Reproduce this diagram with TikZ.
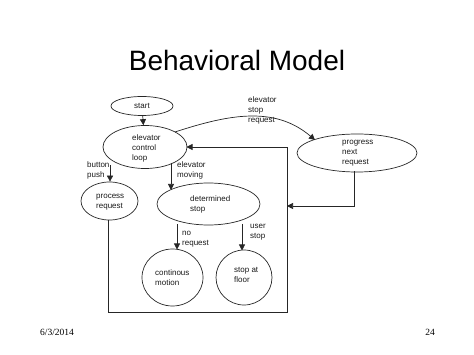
\documentclass[tikz,border=0pt]{standalone}
\usepackage{fontspec}
\setmainfont{Liberation Sans}
\newfontfamily\footfont{Liberation Serif}
\usetikzlibrary{shapes.geometric,arrows.meta}
\tikzset{
  st/.style={ellipse, draw=black!85, line width=0.7pt, inner sep=0pt},
  txt/.style={font=\fontsize{8}{10}\selectfont, align=left, inner sep=0pt, text=black!90},
  arr/.style={draw=black!85, line width=0.7pt, -{Triangle[length=6pt,width=6pt]}},
  ln/.style={draw=black!85, line width=0.7pt}
}
\begin{document}
\begin{tikzpicture}[x=1pt,y=-1pt]
\useasboundingbox (0,0) rectangle (474,355);
\node[font=\fontsize{28}{30}\selectfont, anchor=base, inner sep=0pt] (title) at (237,71) {Behavioral Model};

\node[st, minimum width=62, minimum height=19] (start) at (142,106) {};
\node[txt] (tstart) at (142,105.5) {start};

\node[st, minimum width=84, minimum height=43] (loop) at (145,147) {};
\node[txt, anchor=west] (tloop) at (132,148) {elevator\\control\\loop};

\node[st, minimum width=120, minimum height=38] (prog) at (357,153) {};
\node[txt, anchor=west] (tprog) at (342,153.5) {progress\\next\\request};

\node[st, minimum width=57, minimum height=38] (proc) at (109.5,201) {};
\node[txt, anchor=west] (tproc) at (96,202) {process\\request};

\node[st, minimum width=103, minimum height=42] (det) at (208.5,204) {};
\node[txt, anchor=west] (tdet) at (190,204.5) {determined\\stop};

\node[st, minimum width=61, minimum height=57] (cont) at (172.5,277.5) {};
\node[txt, anchor=west] (tcont) at (155,278) {continous\\motion};

\node[st, minimum width=56, minimum height=55] (floor) at (244,277.5) {};
\node[txt, anchor=west] (tfloor) at (234,275) {stop at\\floor};

% labels
\node[txt, anchor=west] (lstop) at (248,110) {elevator\\stop\\request};
\node[txt, anchor=west] (lbutton) at (87,170) {button\\push};
\node[txt, anchor=west] (lmoving) at (177,170) {elevator\\moving};
\node[txt, anchor=west] (lnoreq) at (182,239) {no\\request};
\node[txt, anchor=west] (luser) at (250,232) {user\\stop};

% connectors
\draw[arr] (start) -- (loop);
\draw[arr] (loop.south -| 110,0) ++(0,-4) coordinate (b1) -- (b1 |- proc.north);
\coordinate (m1) at (171,163);
\draw[arr] (m1) -- (171,190) coordinate (m2);
\draw[arr] (177,224.5) coordinate (n1) -- (177,249.5) coordinate (n2);
\draw[arr] (242,224) coordinate (u1) -- (242,250.5) coordinate (u2);
\coordinate (c1) at (175,132);
\coordinate (c2) at (315,140);
\draw[arr] (c1) .. controls (230,114) and (275,106) .. (c2);
\coordinate (p1) at (354,171.5);
\coordinate (p2) at (287,206);
\draw[arr] (p1) |- (p2);
\coordinate (r1) at (108,220);
\coordinate (r4) at (186.5,147);
\draw[arr] (r1) -- (108,312) -- (287,312) -- (287,147) -- (r4);
\node[font=\footfont\fontsize{9.5}{11}\selectfont, anchor=base west, inner sep=0pt] (date) at (40,336) {6/3/2014};
\node[font=\footfont\fontsize{9.5}{11}\selectfont, anchor=base east, inner sep=0pt] (page) at (435,336) {24};
\end{tikzpicture}
\end{document}
